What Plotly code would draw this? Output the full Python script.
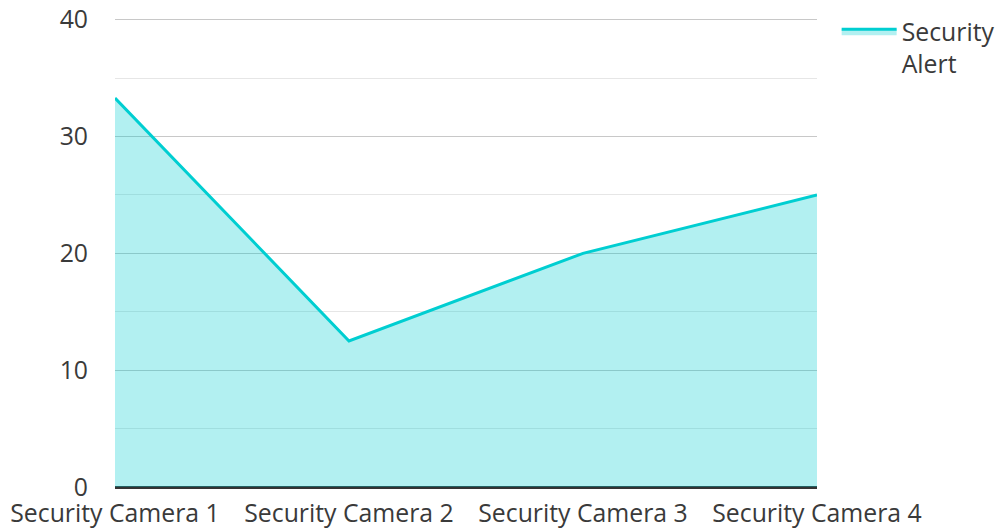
import plotly.graph_objects as go

categories = ["Security Camera 1", "Security Camera 2", "Security Camera 3", "Security Camera 4"]
alerts = [33.3, 12.5, 20, 25]
series_name = "Security<br>Alert"
y_ticks = [0, 10, 20, 30, 40]

fig = go.Figure()
fig.add_trace(go.Scatter(
    x=categories, y=alerts, name=series_name, mode="lines",
    line=dict(color="#00CED1", width=3),
    fill="tozeroy", fillcolor="rgba(0,206,209,0.3)",
))

fig.update_layout(
    width=998, height=528,
    margin=dict(l=115, r=181, t=18, b=41, autoexpand=False),
    paper_bgcolor="white", plot_bgcolor="white",
    font=dict(family="Open Sans", size=24.8, color="#3a3a3a"),
    showlegend=True,
    legend=dict(x=1.028, y=1.02, xanchor="left", yanchor="top", valign="top",
                font=dict(size=24.8), itemwidth=55, tracegroupgap=0),
)
fig.update_xaxes(
    type="category", range=[0, 3], showgrid=False,
    showline=False, zeroline=False, ticks="", automargin=False,
    ticklabelstandoff=9, ticklabeloverflow="allow",
)
fig.update_yaxes(
    range=[0, 40.15], tickvals=y_ticks, showgrid=True, gridcolor="#c8c8c8", gridwidth=1,
    minor=dict(dtick=5, showgrid=True, gridcolor="#e6e6e6", gridwidth=1),
    zeroline=True, zerolinecolor="#333333", zerolinewidth=3,
    ticks="", ticklabelstandoff=26, automargin=False, ticklabeloverflow="allow",
)

fig.write_html("out.html", config={"displayModeBar": False},
               post_script="document.body.style.margin='0';")
